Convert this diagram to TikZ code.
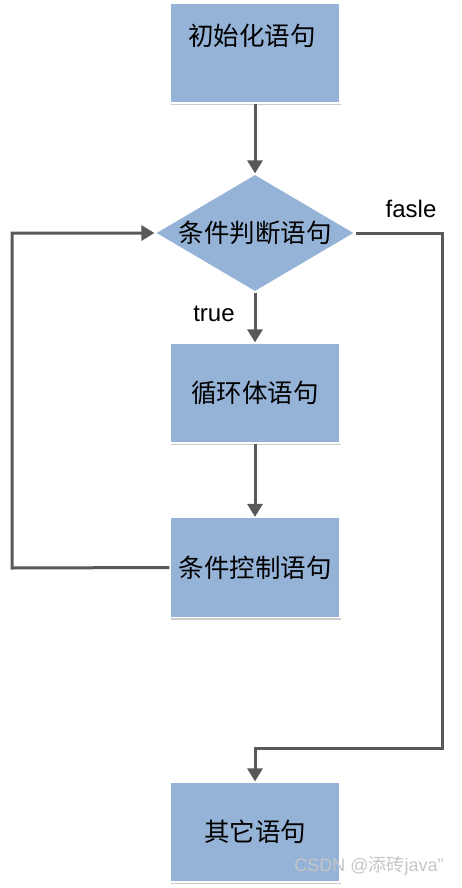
\documentclass[tikz,border=0pt]{standalone}
\usepackage{fontspec}
\setmainfont{Liberation Sans}
\newfontfamily\cjk{Noto Sans CJK SC}
\usetikzlibrary{shapes.geometric,arrows.meta,shadows}
\definecolor{boxblue}{RGB}{149,179,215}
\definecolor{linegray}{RGB}{89,89,89}
\begin{document}
\begin{tikzpicture}[x=1pt,y=-1pt,
  box/.style={rectangle,fill=boxblue,draw=white,line width=1.2pt,minimum width=170pt,minimum height=100pt,inner sep=0pt,
    drop shadow={shadow xshift=1pt,shadow yshift=-2pt,opacity=0.2,fill=black}},
  dia/.style={diamond,fill=boxblue,draw=white,line width=1.2pt,aspect=1.695,minimum width=200pt,minimum height=118pt,inner sep=0pt},
  txt/.style={font=\cjk\fontsize{25.5}{29}\selectfont,inner sep=0pt},
  lbl/.style={font=\fontsize{24}{28}\selectfont,inner sep=0pt},
  conn/.style={draw=linegray,line width=3pt},
  arr/.style={conn,-{Triangle[width=15pt,length=13pt]}}]
\useasboundingbox (0,0) rectangle (462,888);
\fill[white] (0,0) rectangle (462,888);
\node[box] (init) at (255,53) {};
\node[txt] (initt) at (252,36) {初始化语句};
\node[dia,txt] (cond) at (255,233) {条件判断语句};
\node[box,txt] (body) at (255,393) {循环体语句};
\node[box,txt] (ctrl) at (255,567.5) {条件控制语句};
\node[box,txt] (other) at (255,832) {其它语句};
\coordinate (lc) at (12,568);
\coordinate (rc) at (442,748);
\draw[arr] (init.south) -- (cond.north);
\draw[arr] (cond.south) -- (body.north);
\draw[arr] (body.south) -- (ctrl.north);
\draw[arr] (ctrl.west) -- (lc) |- (cond.west);
\draw[arr] (cond.east) -| (rc) -| (other.north);
\node[lbl] (tl) at (214,314) {true};
\node[lbl] (fl) at (411,209) {fasle};
\node[font=\fontsize{18}{21}\selectfont,text=gray!45,inner sep=0pt] (wm) at (369,866) {CSDN @{\cjk 添砖}java”};
\end{tikzpicture}
\end{document}
